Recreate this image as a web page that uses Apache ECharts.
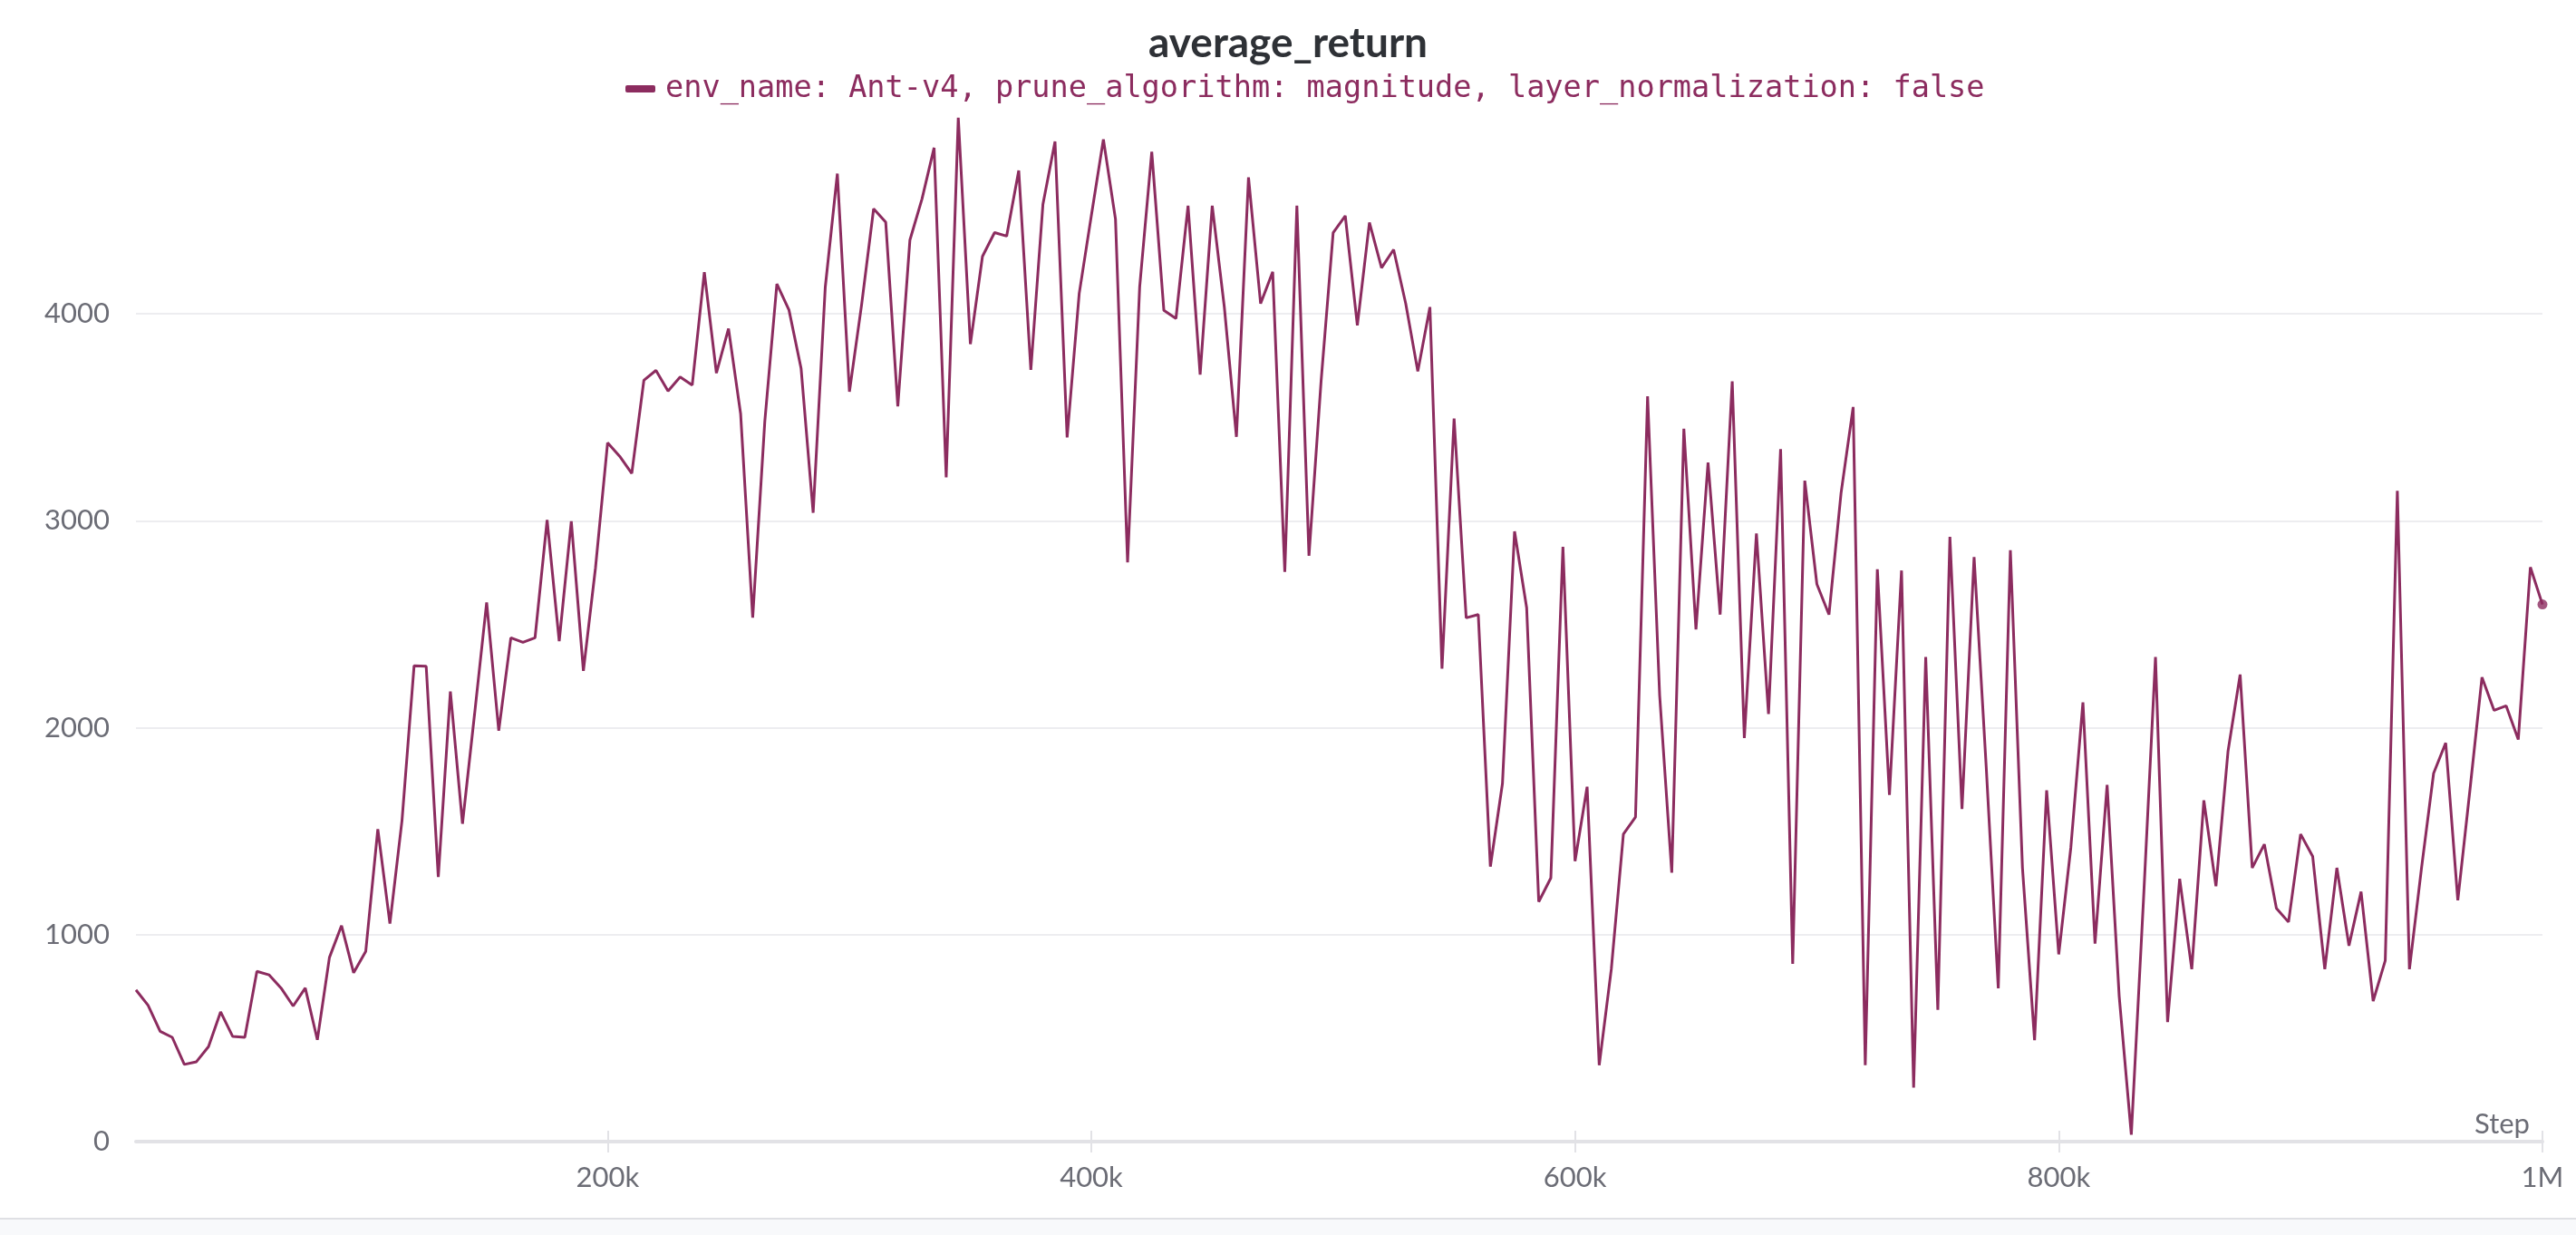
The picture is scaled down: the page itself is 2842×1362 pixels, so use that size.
<!DOCTYPE html>
<html>
<head>
<meta charset="utf-8">
<title>average_return</title>
<script src="https://cdn.jsdelivr.net/npm/echarts@6/dist/echarts.min.js"></script>
<style>
    html, body { margin: 0; padding: 0; background: #ffffff; }
    #main { width: 2842px; height: 1362px; }
    #footer {
        position: absolute; left: 0; right: 0; bottom: 0; height: 17px;
        background: #f8f9fb; border-top: 2px solid #dfe0e4;
    }
</style>
</head>
<body>
<div id="main"></div>
<div id="footer"></div>
<script>
// run logged every 5k steps, from 5k to 1M
const STEP_INTERVAL = 5000;
const runName = 'env_name: Ant-v4, prune_algorithm: magnitude, layer_normalization: false';

const returnValues = [
    733, 659, 533, 504, 373, 386, 459, 627, 508, 504,
    823, 806, 742, 655, 742, 492, 890, 1044, 816, 919,
    1510, 1054, 1552, 2300, 2297, 1279, 2175, 1536, 2066, 2606,
    1986, 2435, 2413, 2435, 3004, 2419, 2998, 2275, 2773, 3377,
    3312, 3229, 3679, 3727, 3627, 3695, 3656, 4202, 3714, 3929,
    3518, 2532, 3480, 4145, 4019, 3737, 3039, 4129, 4678, 3624,
    4042, 4508, 4443, 3553, 4357, 4556, 4803, 3210, 4948, 3854,
    4278, 4393, 4376, 4693, 3730, 4530, 4833, 3403, 4099, 4474,
    4843, 4458, 2799, 4131, 4784, 4017, 3978, 4523, 3707, 4523,
    4033, 3406, 4660, 4050, 4203, 2753, 4523, 2831, 3674, 4393,
    4474, 3945, 4442, 4223, 4311, 4050, 3723, 4033, 2286, 3494,
    2531, 2547, 1329, 1731, 2949, 2580, 1159, 1274, 2874, 1355,
    1715, 369, 833, 1486, 1568, 3602, 2155, 1300, 3445, 2475,
    3282, 2547, 3674, 1950, 2939, 2067, 3347, 859, 3194, 2694,
    2547, 3135, 3550, 369, 2766, 1675, 2760, 261, 2342, 637,
    2923, 1607, 2825, 1813, 741, 2858, 1323, 490, 1698, 905,
    1421, 2123, 957, 1724, 702, 33, 1159, 2342, 578, 1270,
    833, 1649, 1234, 1888, 2257, 1323, 1437, 1127, 1061, 1486,
    1378, 833, 1323, 947, 1208, 679, 875, 3145, 833, 1323,
    1780, 1927, 1166, 1698, 2244, 2084, 2106, 1943, 2776, 2596
];
const steps = returnValues.map(function (v, i) { return (i + 1) * STEP_INTERVAL; });

// axis ticks
const xTickValues = [200000, 400000, 600000, 800000, 1000000];
const yTickInterval = 1000;

const lineColor = '#8c2c5f';
const labelColor = '#6b6c75';
const axisColor = '#e2e2e6';
const fontSans = 'Lato, "Noto Sans", sans-serif';

let seriesData = [];
for (let i = 0; i < steps.length; i++) {
    seriesData.push([steps[i], returnValues[i]]);
}
let lastIndex = steps.length - 1;

function formatStep(v) {
    if (v >= 1000000) {
        return (v / 1000000) + 'M';
    }
    return (v / 1000) + 'k';
}

let chart = echarts.init(document.getElementById('main'));
let option = {
    animation: false,
    backgroundColor: '#ffffff',
    title: {
        text: 'average_return',
        left: 'center',
        top: 20,
        textStyle: {
            fontFamily: fontSans,
            fontWeight: 'bold',
            fontSize: 46,
            color: '#2e3136'
        }
    },
    legend: {
        data: [runName],
        left: 685,
        top: 76,
        icon: 'roundRect',
        itemWidth: 33,
        itemHeight: 8,
        itemGap: 17,
        textStyle: {
            fontFamily: '"DejaVu Sans Mono", monospace',
            fontSize: 33.6,
            color: lineColor,
            padding: [0, 0, 0, 6]
        }
    },
    grid: {
        left: 150,
        right: 37,
        top: 118,
        bottom: 103
    },
    xAxis: [
        {
            type: 'value',
            min: steps[0],
            max: steps[lastIndex],
            name: 'Step',
            nameLocation: 'end',
            nameGap: -14,
            nameTextStyle: {
                align: 'right',
                verticalAlign: 'bottom',
                fontFamily: fontSans,
                fontSize: 31,
                color: labelColor,
                padding: [0, 0, 4, 0]
            },
            axisLine: {lineStyle: {color: axisColor, width: 4}},
            axisTick: {
                show: true,
                length: 12,
                customValues: xTickValues,
                lineStyle: {color: axisColor, width: 2}
            },
            axisLabel: {
                customValues: xTickValues,
                formatter: formatStep,
                margin: 24,
                fontFamily: fontSans,
                fontSize: 31,
                color: labelColor
            },
            splitLine: {show: false}
        },
        {
            // inner half of the tick marks
            type: 'value',
            position: 'bottom',
            min: steps[0],
            max: steps[lastIndex],
            axisLine: {show: false},
            axisTick: {
                show: true,
                inside: true,
                length: 12,
                customValues: xTickValues,
                lineStyle: {color: axisColor, width: 2}
            },
            axisLabel: {show: false},
            splitLine: {show: false}
        }
    ],
    yAxis: {
        type: 'value',
        min: 0,
        max: 5000,
        interval: yTickInterval,
        axisLine: {show: false},
        axisTick: {show: false},
        axisLabel: {
            showMaxLabel: false,
            formatter: function (v) { return String(v); },
            margin: 29,
            fontFamily: fontSans,
            fontSize: 31,
            color: labelColor
        },
        splitLine: {
            showMinLine: false,
            showMaxLine: false,
            lineStyle: {color: '#ededf0', width: 2}
        }
    },
    series: [
        {
            name: runName,
            type: 'line',
            data: seriesData,
            showSymbol: false,
            lineStyle: {color: lineColor, width: 3},
            itemStyle: {color: lineColor}
        },
        {
            // dot on the latest logged value
            name: 'last',
            type: 'scatter',
            data: [seriesData[lastIndex]],
            symbolSize: 11,
            itemStyle: {color: lineColor}
        }
    ]
};
chart.setOption(option);
</script>
</body>
</html>
